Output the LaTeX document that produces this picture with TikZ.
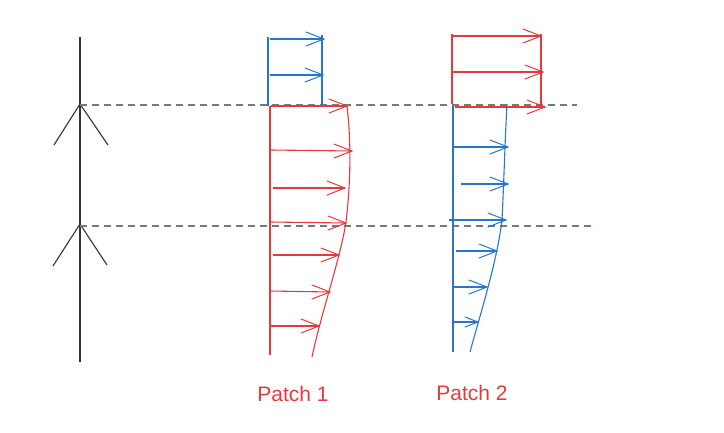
\documentclass[tikz,border=0pt]{standalone}
\usepackage{fontspec}
\setmainfont{Liberation Sans}
\definecolor{pred}{RGB}{228,58,62}
\definecolor{pblue}{RGB}{40,118,204}
\definecolor{dgray}{RGB}{120,120,120}
\tikzset{
  redline/.style={draw=pred,line width=1.1pt},
  blueline/.style={draw=pblue,line width=1.1pt},
  shaft/.style={line width=1.1pt},
  head/.pic={\draw[line width=1pt,line cap=round] (-18,-7) -- (0,0) -- (-18,7);},
  smallhead/.pic={\draw[line width=1pt,line cap=round] (-13,-5) -- (0,0) -- (-13,5);},
  level/.style={draw=dgray,line width=1.4pt,dash pattern=on 7pt off 5pt},
  struct/.style={draw=black!80,line width=1.1pt},
  lbl/.style={font=\fontsize{21}{24}\selectfont,text=pred}
}
\newcommand\loadarrow[5][head]{%
  \draw[shaft,#2] (#3) -- (#4,#5);
  \pic[#2] at (#4,#5) {#1};}
\begin{document}
\begin{tikzpicture}[x=1pt,y=-1pt]
\useasboundingbox (0,0) rectangle (724,432);
% structure
\draw[struct] (80,37) -- (80,362);
\draw[struct] (54,145) -- (80,104) -- (108,145);
\draw[struct] (53,266) -- (80,224) -- (107,265);
% levels
\draw[level] (80,105) -- (577,105);
\draw[level] (80,226) -- (596,226);
% Patch 1 blue (upper)
\draw[blueline] (268,37) -- (268,106);
\draw[blueline] (322,35) -- (322,106);
\loadarrow{pblue}{270,39}{324}{39}
\loadarrow{pblue}{270,75}{323}{75}
% Patch 1 red (lower)
\draw[redline] (270,106) -- (270,355);
\draw[redline] (347,106) .. controls (351,140) and (351,180) .. (346,222)
   .. controls (340,260) and (322,310) .. (312,357);
\loadarrow{pred}{271,106}{347}{106}
\loadarrow{pred}{271,150}{352}{151}
\loadarrow{pred}{273,188}{345}{188}
\loadarrow{pred}{270,222}{346}{223}
\loadarrow{pred}{273,255}{339}{255}
\loadarrow{pred}{270,291}{330}{292}
\loadarrow{pred}{270,326}{319}{326}
% Patch 2 red (upper)
\draw[redline] (452,34) -- (452,104);
\draw[redline] (541,34) -- (541,106);
\loadarrow{pred}{453,36}{541}{36}
\loadarrow{pred}{453,72}{543}{72}
\loadarrow{pred}{455,107}{545}{107}
% Patch 2 blue (lower)
\draw[blueline] (453,106) -- (453,352);
\draw[blueline] (507,104) .. controls (505,140) and (504,180) .. (502,220)
   .. controls (497,262) and (480,315) .. (470,352);
\loadarrow{pblue}{453,147}{508}{147}
\loadarrow{pblue}{461,184}{508}{184}
\loadarrow{pblue}{449,220}{506}{220}
\loadarrow{pblue}{456,251}{497}{251}
\loadarrow{pblue}{453,287}{487}{287}
\loadarrow[smallhead]{pblue}{453,322}{478}{322}
% labels
\node[lbl] (p1) at (293,394) {Patch 1};
\node[lbl] (p2) at (472,393) {Patch 2};
\end{tikzpicture}
\end{document}
